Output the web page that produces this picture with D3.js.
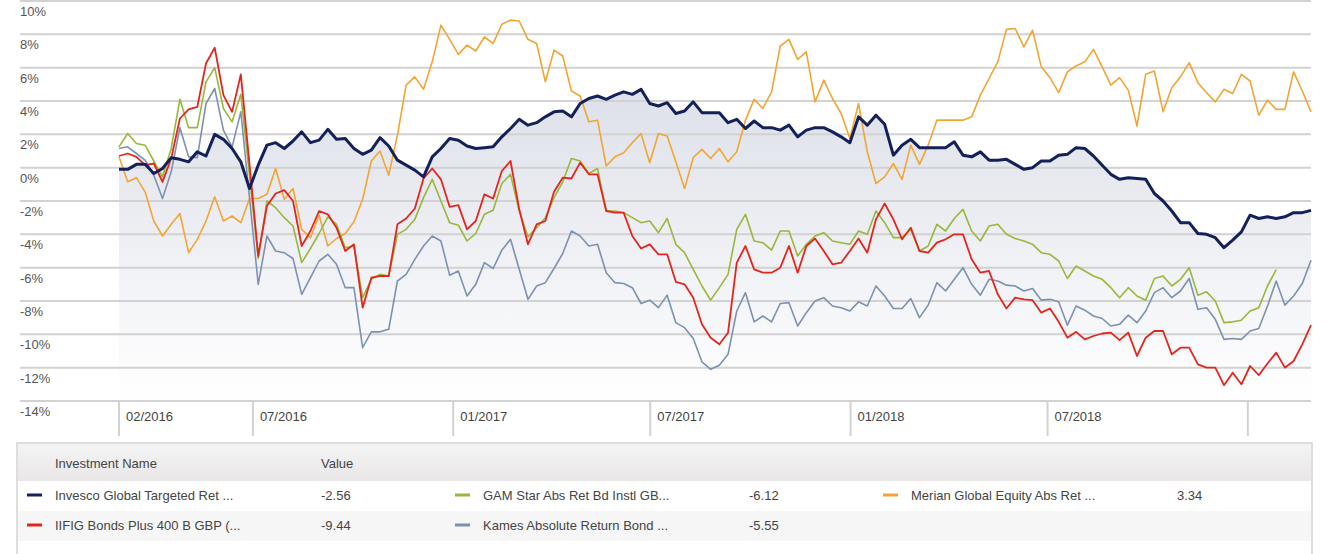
<!DOCTYPE html>
<html>
<head>
<meta charset="utf-8">
<script src="https://cdn.jsdelivr.net/npm/d3@7"></script>
<style>
  body { margin: 0; background: #fff; }
  svg { display: block; font-family: "Liberation Sans", Arial, sans-serif; }
</style>
</head>
<body>
<script>
// weekly-ish observations, 29 Feb 2016 .. 28 Feb 2019
let startDate = new Date(2016, 1, 29);
let endDate = new Date(2019, 1, 28);

let invesco = [
  -0.1, -0.1, 0.2, 0.2, -0.35, -0.05, 0.6, 0.5, 0.35, 0.95,
  0.7, 2.0, 1.7, 1.15, 0.35, -1.25, 0.15, 1.35, 1.5, 1.15,
  1.6, 2.15, 1.5, 1.65, 2.3, 1.7, 1.75, 1.15, 0.8, 1.05,
  1.8, 1.3, 0.45, 0.15, -0.15, -0.55, 0.65, 1.15, 1.75, 1.65,
  1.3, 1.15, 1.2, 1.25, 1.85, 2.35, 2.9, 2.55, 2.7, 3.05,
  3.35, 3.4, 3.05, 3.85, 4.15, 4.3, 4.1, 4.35, 4.55, 4.4,
  4.7, 3.85, 3.7, 3.9, 3.25, 3.4, 3.95, 3.3, 3.3, 3.3,
  2.7, 2.9, 2.35, 2.8, 2.4, 2.4, 2.25, 2.55, 1.85, 2.25,
  2.4, 2.4, 2.15, 1.85, 1.5, 3.05, 2.55, 3.15, 2.6, 0.75,
  1.35, 1.7, 1.2, 1.2, 1.2, 1.2, 1.55, 0.75, 0.65, 0.95,
  0.45, 0.45, 0.5, 0.2, -0.1, 0.0, 0.4, 0.4, 0.75, 0.8,
  1.2, 1.15, 0.7, 0.15, -0.4, -0.7, -0.6, -0.65, -0.7, -1.55,
  -2.0, -2.6, -3.3, -3.3, -3.95, -4.0, -4.2, -4.8, -4.35, -3.85,
  -2.85, -3.05, -2.95, -3.05, -2.95, -2.7, -2.7, -2.56
];

let merian = [
  0.65, -0.85, -0.6, -1.45, -3.2, -4.1, -3.4, -2.75, -5.1, -4.3,
  -3.2, -1.75, -3.2, -2.9, -3.3, -1.85, -1.85, -1.6, -0.05, -1.9,
  -1.25, -3.7, -4.2, -2.85, -4.7, -4.25, -3.95, -3.25, -1.9, 0.4,
  1.0, -0.45, 1.95, 4.95, 5.45, 4.7, 6.35, 8.55, 7.7, 6.8,
  7.35, 7.0, 7.85, 7.45, 8.6, 8.85, 8.8, 7.7, 7.45, 5.15,
  7.05, 6.7, 4.6, 4.3, 2.75, 2.85, 0.1, 0.65, 0.9, 1.5,
  2.05, 0.3, 2.05, 1.9, 0.35, -1.25, 0.6, 1.1, 0.55, 1.15,
  0.35, 0.95, 2.85, 4.1, 3.55, 4.55, 7.3, 7.7, 6.5, 6.95,
  3.95, 5.25, 4.15, 3.25, 1.75, 3.85, 0.95, -0.95, -0.55, 0.25,
  -0.7, 1.35, 0.2, 1.35, 2.85, 2.85, 2.85, 2.85, 3.05, 4.35,
  5.35, 6.35, 8.3, 8.35, 7.25, 8.25, 6.05, 5.4, 4.5, 5.75,
  6.1, 6.35, 7.1, 6.05, 4.95, 5.4, 4.65, 2.5, 5.6, 5.8,
  3.35, 4.8, 5.45, 6.3, 5.1, 4.5, 3.95, 4.7, 4.45, 5.6,
  5.2, 3.15, 4.05, 3.5, 3.5, 5.75, 4.6, 3.34
];

let iifig = [
  0.7, 0.85, 0.65, 0.15, 0.25, -0.85, 0.55, 2.95, 3.5, 3.65,
  6.25, 7.2, 4.35, 3.35, 5.6, 0.2, -5.3, -2.3, -1.55, -1.35,
  -2.0, -4.7, -3.8, -2.6, -2.8, -3.6, -5.0, -4.6, -8.4, -6.6,
  -6.5, -6.5, -3.4, -3.05, -2.45, -0.65, -0.05, -0.7, -2.35, -2.25,
  -3.7, -3.2, -1.6, -1.85, -0.2, 0.4, -2.5, -4.6, -3.4, -3.2,
  -1.45, -0.6, -0.65, 0.3, -0.4, -0.4, -2.6, -2.7, -2.7, -4.1,
  -4.85, -4.6, -5.2, -5.2, -6.85, -7.0, -7.8, -9.4, -10.2, -10.6,
  -9.9, -5.7, -4.7, -6.1, -6.3, -6.3, -6.0, -4.7, -6.3, -4.7,
  -4.25, -5.0, -5.8, -5.7, -5.0, -4.25, -5.1, -3.1, -2.15, -3.1,
  -4.3, -3.6, -5.0, -5.1, -4.5, -4.3, -4.0, -4.0, -5.5, -6.3,
  -6.2, -7.6, -8.45, -7.8, -7.9, -7.95, -8.7, -8.45, -9.25, -10.2,
  -9.85, -10.3, -10.1, -9.95, -9.9, -10.35, -9.9, -11.3, -10.2, -9.8,
  -9.8, -11.2, -10.8, -10.8, -11.8, -12.0, -12.0, -13.05, -12.3, -13.0,
  -11.9, -12.45, -11.75, -11.1, -12.0, -11.6, -10.6, -9.44
];

let gam = [
  1.25, 2.05, 1.45, 1.35, 0.4, -0.55, 1.15, 4.1, 2.4, 2.4,
  5.15, 6.0, 3.55, 2.75, 4.4, -0.5, -5.45, -2.0, -2.4, -3.0,
  -3.5, -5.7, -4.85, -3.95, -2.95, -3.4, -4.8, -4.7, -7.8, -6.7,
  -6.4, -6.5, -4.0, -3.7, -3.1, -1.8, -0.7, -2.0, -3.3, -3.45,
  -4.4, -3.95, -2.8, -2.55, -0.95, -0.4, -2.6, -4.15, -3.6, -3.0,
  -1.8, -0.85, 0.55, 0.4, -0.35, -0.05, -2.6, -2.6, -2.7, -3.0,
  -3.3, -3.2, -3.9, -3.05, -4.6, -5.1, -6.1, -7.1, -7.95, -7.2,
  -6.4, -3.7, -2.8, -4.4, -4.5, -4.95, -3.8, -3.8, -5.3, -4.6,
  -4.1, -3.9, -4.4, -4.5, -4.6, -3.8, -4.0, -2.6, -3.3, -4.2,
  -4.2, -3.7, -5.0, -4.7, -3.4, -3.8, -3.05, -2.5, -3.8, -4.4,
  -3.5, -3.4, -4.0, -4.25, -4.4, -4.6, -5.1, -5.2, -5.6, -6.65,
  -5.9, -6.2, -6.5, -6.7, -7.2, -7.8, -7.2, -7.7, -7.95, -6.65,
  -6.5, -7.1, -6.7, -6.0, -7.65, -7.45, -8.0, -9.3, -9.25, -9.15,
  -8.6, -8.4, -7.1, -6.12, null, null, null, null
];

let kames = [
  1.15, 1.25, 0.85, 0.45, -0.45, -1.85, -0.25, 2.4, 0.65, 0.6,
  3.85, 4.75, 2.25, 1.25, 3.35, -1.8, -7.0, -4.1, -5.0, -5.1,
  -5.45, -7.6, -6.6, -5.6, -5.2, -5.8, -7.2, -7.2, -10.8, -9.85,
  -9.85, -9.7, -6.8, -6.4, -5.5, -4.7, -4.1, -4.4, -6.45, -6.2,
  -7.7, -7.0, -5.7, -6.05, -4.95, -4.3, -6.1, -7.9, -7.1, -6.9,
  -6.05, -5.15, -3.8, -4.1, -4.7, -4.6, -6.3, -6.9, -6.95, -7.2,
  -8.15, -7.95, -8.4, -7.65, -9.3, -9.6, -10.25, -11.65, -12.1, -11.85,
  -11.2, -8.6, -7.5, -9.25, -8.9, -9.25, -8.15, -8.1, -9.5, -8.7,
  -8.0, -7.8, -8.3, -8.4, -8.6, -8.05, -8.3, -7.1, -7.7, -8.45,
  -8.45, -7.85, -9.0, -8.25, -6.9, -7.4, -6.7, -6.0, -7.0, -7.65,
  -6.7, -6.8, -7.05, -7.1, -7.4, -7.25, -7.95, -7.9, -8.05, -9.45,
  -8.3, -8.55, -8.9, -9.05, -9.5, -9.4, -8.85, -9.3, -8.6, -7.5,
  -7.2, -7.8, -7.4, -6.65, -8.5, -8.4, -9.1, -10.3, -10.25, -10.3,
  -9.8, -9.65, -8.3, -6.8, -8.25, -7.7, -6.95, -5.55
];

let yTicks = [10, 8, 6, 4, 2, 0, -2, -4, -6, -8, -10, -12, -14];
let xTickDates = ['2016-02-29', '2016-07-01', '2017-01-01', '2017-07-01', '2018-01-01', '2018-07-01', '2019-01-01'];
let xTickLabels = ['02/2016', '07/2016', '01/2017', '07/2017', '01/2018', '07/2018', ''];

let seriesNames = ['Invesco Global Targeted Ret ...', 'IIFIG Bonds Plus 400 B GBP (...', 'GAM Star Abs Ret Bd Instl GB...', 'Kames Absolute Return Bond ...', 'Merian Global Equity Abs Ret ...'];
let seriesValues = ['-2.56', '-9.44', '-6.12', '-5.55', '3.34'];
let seriesColors = ['#13205a', '#e3261d', '#97b83a', '#7d91b2', '#f2a533'];

let W = 1334, H = 554;
let svg = d3.select('body').append('svg').attr('width', W).attr('height', H);

let n = invesco.length;
let dates = d3.range(n).map(i => new Date(+startDate + i * (endDate - startDate) / (n - 1)));

let x = d3.scaleTime().domain([startDate, endDate]).range([119, 1311]);
let y = d3.scaleLinear().domain([-14, 10]).range([401, 1]);

// shaded area under the Invesco line
let grad = svg.append('defs').append('linearGradient')
    .attr('id', 'fade')
    .attr('gradientUnits', 'userSpaceOnUse')
    .attr('x1', 0).attr('x2', 0)
    .attr('y1', y(5)).attr('y2', y(-14));
grad.append('stop').attr('offset', 0).attr('stop-color', '#dde0e9');
grad.append('stop').attr('offset', 1).attr('stop-color', '#ffffff');

let area = d3.area()
    .x((d, i) => x(dates[i]))
    .y0(y(-14))
    .y1(d => y(d));

svg.append('path')
    .datum(invesco)
    .attr('fill', 'url(#fade)')
    .attr('d', area);

// horizontal grid + labels
svg.append('g').selectAll('line')
    .data(yTicks)
    .join('line')
    .attr('x1', 20).attr('x2', 1311)
    .attr('y1', d => y(d)).attr('y2', d => y(d))
    .attr('stroke', '#d2d2d2')
    .attr('stroke-width', 2);

svg.append('g').selectAll('text')
    .data(yTicks)
    .join('text')
    .attr('x', 20)
    .attr('y', d => y(d) + 15)
    .attr('font-size', 13)
    .attr('fill', '#555')
    .text(d => d + '%');

// x ticks
let xTicks = xTickDates.map(s => d3.timeParse('%Y-%m-%d')(s));
let xg = svg.append('g');
xg.selectAll('line')
    .data(xTicks)
    .join('line')
    .attr('x1', d => x(d)).attr('x2', d => x(d))
    .attr('y1', 401).attr('y2', 436)
    .attr('stroke', '#d2d2d2')
    .attr('stroke-width', 2);
xg.selectAll('text')
    .data(xTicks)
    .join('text')
    .attr('x', d => x(d) + 7)
    .attr('y', 421)
    .attr('font-size', 13)
    .attr('fill', '#444')
    .text((d, i) => xTickLabels[i]);

// series lines
let line = d3.line()
    .defined(d => d != null)
    .x((d, i) => x(dates[i]))
    .y(d => y(d));

let drawOrder = [
    {data: merian, color: seriesColors[4], w: 1.6},
    {data: kames, color: seriesColors[3], w: 1.6},
    {data: gam, color: seriesColors[2], w: 1.6},
    {data: iifig, color: seriesColors[1], w: 1.8},
    {data: invesco, color: seriesColors[0], w: 3}
];
drawOrder.forEach(s => {
    svg.append('path')
        .datum(s.data)
        .attr('fill', 'none')
        .attr('stroke', s.color)
        .attr('stroke-width', s.w)
        .attr('stroke-linejoin', 'round')
        .attr('d', line);
});

// legend table
let lg = svg.append('g');
let hg = svg.select('defs').append('linearGradient')
    .attr('id', 'head').attr('x1', 0).attr('x2', 0).attr('y1', 0).attr('y2', 1);
hg.append('stop').attr('offset', 0).attr('stop-color', '#f5f4f4');
hg.append('stop').attr('offset', 1).attr('stop-color', '#e8e6e6');

lg.append('rect')
    .attr('x', 17).attr('y', 443).attr('width', 1295).attr('height', 130)
    .attr('fill', '#fff').attr('stroke', '#d3d3d3').attr('stroke-width', 1.5);
lg.append('rect')
    .attr('x', 18).attr('y', 444).attr('width', 1293).attr('height', 37)
    .attr('fill', 'url(#head)');
lg.append('rect')
    .attr('x', 18).attr('y', 511).attr('width', 1293).attr('height', 30)
    .attr('fill', '#f6f6f6');

lg.append('text').attr('x', 55).attr('y', 468).attr('font-size', 13).attr('fill', '#444').text('Investment Name');
lg.append('text').attr('x', 321).attr('y', 468).attr('font-size', 13).attr('fill', '#444').text('Value');

let colX = [27, 455, 883];
let valX = [321, 749, 1177];
let slots = [[0, 0], [1, 0], [0, 1], [1, 1], [0, 2]]; // [row, col] per series
slots.forEach(([row, col], i) => {
    let cy = 495 + row * 30;
    lg.append('line')
        .attr('x1', colX[col]).attr('x2', colX[col] + 15)
        .attr('y1', cy).attr('y2', cy)
        .attr('stroke', seriesColors[i]).attr('stroke-width', 3);
    lg.append('text')
        .attr('x', colX[col] + 28).attr('y', cy + 5)
        .attr('font-size', 13).attr('fill', '#444')
        .text(seriesNames[i]);
    lg.append('text')
        .attr('x', valX[col]).attr('y', cy + 5)
        .attr('font-size', 13).attr('fill', '#444')
        .text(seriesValues[i]);
});
</script>
</body>
</html>
